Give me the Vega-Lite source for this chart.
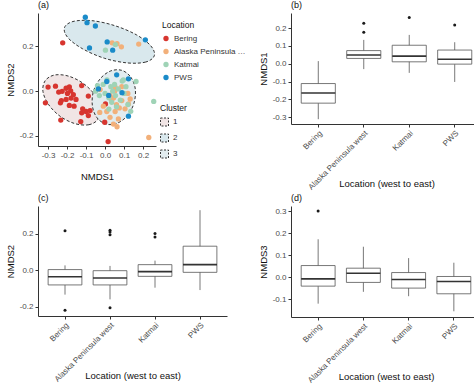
{
  "$schema": "https://vega.github.io/schema/vega-lite/v6.json",
  "padding": {"left": 5, "top": 1, "right": 0, "bottom": 0},
  "datasets": {
    "scatter": [
      {"Location": "Bering", "NMDS1": -0.223, "NMDS2": 0.216},
      {"Location": "Bering", "NMDS1": -0.300, "NMDS2": 0.018},
      {"Location": "Bering", "NMDS1": -0.261, "NMDS2": 0.022},
      {"Location": "Bering", "NMDS1": -0.314, "NMDS2": -0.052},
      {"Location": "Bering", "NMDS1": -0.244, "NMDS2": -0.004},
      {"Location": "Bering", "NMDS1": -0.226, "NMDS2": -0.001},
      {"Location": "Bering", "NMDS1": -0.205, "NMDS2": 0.013},
      {"Location": "Bering", "NMDS1": -0.188, "NMDS2": 0.019},
      {"Location": "Bering", "NMDS1": -0.181, "NMDS2": 0.001},
      {"Location": "Bering", "NMDS1": -0.198, "NMDS2": -0.010},
      {"Location": "Bering", "NMDS1": -0.167, "NMDS2": -0.016},
      {"Location": "Bering", "NMDS1": -0.179, "NMDS2": -0.031},
      {"Location": "Bering", "NMDS1": -0.205, "NMDS2": -0.037},
      {"Location": "Bering", "NMDS1": -0.230, "NMDS2": -0.042},
      {"Location": "Bering", "NMDS1": -0.153, "NMDS2": -0.037},
      {"Location": "Bering", "NMDS1": -0.235, "NMDS2": -0.052},
      {"Location": "Bering", "NMDS1": -0.188, "NMDS2": -0.064},
      {"Location": "Bering", "NMDS1": -0.123, "NMDS2": 0.025},
      {"Location": "Bering", "NMDS1": -0.088, "NMDS2": -0.022},
      {"Location": "Bering", "NMDS1": -0.118, "NMDS2": -0.079},
      {"Location": "Bering", "NMDS1": -0.100, "NMDS2": -0.091},
      {"Location": "Bering", "NMDS1": -0.123, "NMDS2": -0.097},
      {"Location": "Bering", "NMDS1": -0.088, "NMDS2": -0.109},
      {"Location": "Bering", "NMDS1": -0.128, "NMDS2": -0.136},
      {"Location": "Bering", "NMDS1": -0.233, "NMDS2": -0.129},
      {"Location": "Bering", "NMDS1": -0.002, "NMDS2": -0.139},
      {"Location": "Bering", "NMDS1": 0.016, "NMDS2": -0.225},
      {"Location": "Bering", "NMDS1": -0.163, "NMDS2": -0.067},
      {"Location": "Bering", "NMDS1": 0.002, "NMDS2": -0.057},
      {"Location": "Bering", "NMDS1": -0.079, "NMDS2": -0.087},
      {"Location": "Alaska Peninsula west", "NMDS1": 0.037, "NMDS2": 0.216},
      {"Location": "Alaska Peninsula west", "NMDS1": 0.063, "NMDS2": 0.212},
      {"Location": "Alaska Peninsula west", "NMDS1": 0.086, "NMDS2": 0.198},
      {"Location": "Alaska Peninsula west", "NMDS1": 0.177, "NMDS2": 0.210},
      {"Location": "Alaska Peninsula west", "NMDS1": -0.026, "NMDS2": 0.007},
      {"Location": "Alaska Peninsula west", "NMDS1": 0.053, "NMDS2": 0.018},
      {"Location": "Alaska Peninsula west", "NMDS1": 0.088, "NMDS2": 0.020},
      {"Location": "Alaska Peninsula west", "NMDS1": 0.026, "NMDS2": -0.019},
      {"Location": "Alaska Peninsula west", "NMDS1": 0.088, "NMDS2": -0.042},
      {"Location": "Alaska Peninsula west", "NMDS1": -0.009, "NMDS2": -0.067},
      {"Location": "Alaska Peninsula west", "NMDS1": 0.009, "NMDS2": -0.091},
      {"Location": "Alaska Peninsula west", "NMDS1": -0.028, "NMDS2": -0.095},
      {"Location": "Alaska Peninsula west", "NMDS1": 0.053, "NMDS2": -0.091},
      {"Location": "Alaska Peninsula west", "NMDS1": 0.026, "NMDS2": -0.117},
      {"Location": "Alaska Peninsula west", "NMDS1": 0.070, "NMDS2": -0.124},
      {"Location": "Alaska Peninsula west", "NMDS1": 0.105, "NMDS2": -0.079},
      {"Location": "Alaska Peninsula west", "NMDS1": 0.123, "NMDS2": -0.057},
      {"Location": "Alaska Peninsula west", "NMDS1": 0.044, "NMDS2": -0.147},
      {"Location": "Alaska Peninsula west", "NMDS1": 0.063, "NMDS2": -0.159},
      {"Location": "Alaska Peninsula west", "NMDS1": 0.230, "NMDS2": -0.207},
      {"Location": "Alaska Peninsula west", "NMDS1": 0.120, "NMDS2": -0.010},
      {"Location": "Alaska Peninsula west", "NMDS1": 0.060, "NMDS2": -0.060},
      {"Location": "Alaska Peninsula west", "NMDS1": 0.035, "NMDS2": -0.040},
      {"Location": "Alaska Peninsula west", "NMDS1": 0.075, "NMDS2": -0.075},
      {"Location": "Alaska Peninsula west", "NMDS1": 0.132, "NMDS2": -0.035},
      {"Location": "Alaska Peninsula west", "NMDS1": 0.045, "NMDS2": -0.030},
      {"Location": "Alaska Peninsula west", "NMDS1": 0.050, "NMDS2": 0.000},
      {"Location": "Katmai", "NMDS1": 0.002, "NMDS2": 0.183},
      {"Location": "Katmai", "NMDS1": 0.054, "NMDS2": 0.208},
      {"Location": "Katmai", "NMDS1": -0.050, "NMDS2": 0.000},
      {"Location": "Katmai", "NMDS1": -0.030, "NMDS2": -0.020},
      {"Location": "Katmai", "NMDS1": -0.010, "NMDS2": 0.030},
      {"Location": "Katmai", "NMDS1": 0.000, "NMDS2": -0.010},
      {"Location": "Katmai", "NMDS1": 0.010, "NMDS2": 0.050},
      {"Location": "Katmai", "NMDS1": 0.020, "NMDS2": -0.030},
      {"Location": "Katmai", "NMDS1": 0.030, "NMDS2": 0.020},
      {"Location": "Katmai", "NMDS1": 0.035, "NMDS2": -0.050},
      {"Location": "Katmai", "NMDS1": 0.040, "NMDS2": 0.000},
      {"Location": "Katmai", "NMDS1": 0.050, "NMDS2": 0.030},
      {"Location": "Katmai", "NMDS1": 0.055, "NMDS2": -0.020},
      {"Location": "Katmai", "NMDS1": 0.060, "NMDS2": -0.070},
      {"Location": "Katmai", "NMDS1": 0.070, "NMDS2": 0.010},
      {"Location": "Katmai", "NMDS1": 0.080, "NMDS2": -0.040},
      {"Location": "Katmai", "NMDS1": 0.090, "NMDS2": 0.045},
      {"Location": "Katmai", "NMDS1": 0.100, "NMDS2": -0.010},
      {"Location": "Katmai", "NMDS1": 0.120, "NMDS2": -0.060},
      {"Location": "Katmai", "NMDS1": 0.135, "NMDS2": -0.090},
      {"Location": "Katmai", "NMDS1": 0.163, "NMDS2": 0.043},
      {"Location": "Katmai", "NMDS1": 0.256, "NMDS2": -0.046},
      {"Location": "Katmai", "NMDS1": 0.110, "NMDS2": 0.020},
      {"Location": "Katmai", "NMDS1": 0.020, "NMDS2": -0.080},
      {"Location": "Katmai", "NMDS1": -0.040, "NMDS2": 0.025},
      {"Location": "Katmai", "NMDS1": 0.096, "NMDS2": 0.050},
      {"Location": "PWS", "NMDS1": -0.104, "NMDS2": 0.330},
      {"Location": "PWS", "NMDS1": -0.095, "NMDS2": 0.306},
      {"Location": "PWS", "NMDS1": -0.051, "NMDS2": 0.291},
      {"Location": "PWS", "NMDS1": -0.082, "NMDS2": 0.193},
      {"Location": "PWS", "NMDS1": 0.011, "NMDS2": 0.220},
      {"Location": "PWS", "NMDS1": 0.040, "NMDS2": 0.183},
      {"Location": "PWS", "NMDS1": 0.212, "NMDS2": 0.229},
      {"Location": "PWS", "NMDS1": 0.061, "NMDS2": 0.073},
      {"Location": "PWS", "NMDS1": 0.009, "NMDS2": 0.043},
      {"Location": "PWS", "NMDS1": 0.123, "NMDS2": 0.055},
      {"Location": "PWS", "NMDS1": -0.035, "NMDS2": 0.010},
      {"Location": "PWS", "NMDS1": 0.123, "NMDS2": -0.112},
      {"Location": "PWS", "NMDS1": 0.019, "NMDS2": -0.019},
      {"Location": "PWS", "NMDS1": 0.089, "NMDS2": -0.007}
    ],
    "ellipses": [
      {"Cluster": "1", "k": 0, "NMDS1": -0.036, "NMDS2": -0.125},
      {"Cluster": "1", "k": 1, "NMDS1": -0.085, "NMDS2": -0.150},
      {"Cluster": "1", "k": 2, "NMDS1": -0.159, "NMDS2": -0.145},
      {"Cluster": "1", "k": 3, "NMDS1": -0.237, "NMDS2": -0.112},
      {"Cluster": "1", "k": 4, "NMDS1": -0.298, "NMDS2": -0.059},
      {"Cluster": "1", "k": 5, "NMDS1": -0.327, "NMDS2": -0.001},
      {"Cluster": "1", "k": 6, "NMDS1": -0.315, "NMDS2": 0.047},
      {"Cluster": "1", "k": 7, "NMDS1": -0.266, "NMDS2": 0.072},
      {"Cluster": "1", "k": 8, "NMDS1": -0.192, "NMDS2": 0.067},
      {"Cluster": "1", "k": 9, "NMDS1": -0.114, "NMDS2": 0.034},
      {"Cluster": "1", "k": 10, "NMDS1": -0.052, "NMDS2": -0.019},
      {"Cluster": "1", "k": 11, "NMDS1": -0.024, "NMDS2": -0.077},
      {"Cluster": "2", "k": 0, "NMDS1": 0.259, "NMDS2": 0.158},
      {"Cluster": "2", "k": 1, "NMDS1": 0.214, "NMDS2": 0.130},
      {"Cluster": "2", "k": 2, "NMDS1": 0.118, "NMDS2": 0.126},
      {"Cluster": "2", "k": 3, "NMDS1": -0.004, "NMDS2": 0.147},
      {"Cluster": "2", "k": 4, "NMDS1": -0.118, "NMDS2": 0.189},
      {"Cluster": "2", "k": 5, "NMDS1": -0.195, "NMDS2": 0.238},
      {"Cluster": "2", "k": 6, "NMDS1": -0.214, "NMDS2": 0.283},
      {"Cluster": "2", "k": 7, "NMDS1": -0.169, "NMDS2": 0.311},
      {"Cluster": "2", "k": 8, "NMDS1": -0.072, "NMDS2": 0.315},
      {"Cluster": "2", "k": 9, "NMDS1": 0.049, "NMDS2": 0.293},
      {"Cluster": "2", "k": 10, "NMDS1": 0.164, "NMDS2": 0.252},
      {"Cluster": "2", "k": 11, "NMDS1": 0.241, "NMDS2": 0.202},
      {"Cluster": "3", "k": 0, "NMDS1": 0.088, "NMDS2": 0.093},
      {"Cluster": "3", "k": 1, "NMDS1": 0.135, "NMDS2": 0.063},
      {"Cluster": "3", "k": 2, "NMDS1": 0.159, "NMDS2": 0.010},
      {"Cluster": "3", "k": 3, "NMDS1": 0.152, "NMDS2": -0.054},
      {"Cluster": "3", "k": 4, "NMDS1": 0.117, "NMDS2": -0.110},
      {"Cluster": "3", "k": 5, "NMDS1": 0.062, "NMDS2": -0.144},
      {"Cluster": "3", "k": 6, "NMDS1": 0.004, "NMDS2": -0.147},
      {"Cluster": "3", "k": 7, "NMDS1": -0.044, "NMDS2": -0.117},
      {"Cluster": "3", "k": 8, "NMDS1": -0.067, "NMDS2": -0.064},
      {"Cluster": "3", "k": 9, "NMDS1": -0.061, "NMDS2": 0.000},
      {"Cluster": "3", "k": 10, "NMDS1": -0.025, "NMDS2": 0.056},
      {"Cluster": "3", "k": 11, "NMDS1": 0.029, "NMDS2": 0.090}
    ],
    "box": [
      {"axis": "NMDS1", "loc": "Bering", "lower": -0.311, "q1": -0.221, "median": -0.164, "q3": -0.111, "upper": 0.015},
      {"axis": "NMDS1", "loc": "Alaska Peninsula west", "lower": -0.030, "q1": 0.030, "median": 0.049, "q3": 0.074, "upper": 0.134},
      {"axis": "NMDS1", "loc": "Katmai", "lower": -0.051, "q1": 0.011, "median": 0.043, "q3": 0.104, "upper": 0.162},
      {"axis": "NMDS1", "loc": "PWS", "lower": -0.102, "q1": -0.002, "median": 0.025, "q3": 0.077, "upper": 0.121},
      {"axis": "NMDS2", "loc": "Bering", "lower": -0.133, "q1": -0.080, "median": -0.035, "q3": 0.004, "upper": 0.027},
      {"axis": "NMDS2", "loc": "Alaska Peninsula west", "lower": -0.159, "q1": -0.080, "median": -0.042, "q3": -0.002, "upper": 0.024},
      {"axis": "NMDS2", "loc": "Katmai", "lower": -0.095, "q1": -0.033, "median": -0.007, "q3": 0.031, "upper": 0.053},
      {"axis": "NMDS2", "loc": "PWS", "lower": -0.108, "q1": -0.011, "median": 0.031, "q3": 0.132, "upper": 0.329},
      {"axis": "NMDS3", "loc": "Bering", "lower": -0.121, "q1": -0.041, "median": -0.008, "q3": 0.053, "upper": 0.173},
      {"axis": "NMDS3", "loc": "Alaska Peninsula west", "lower": -0.067, "q1": -0.024, "median": 0.018, "q3": 0.041, "upper": 0.139},
      {"axis": "NMDS3", "loc": "Katmai", "lower": -0.087, "q1": -0.050, "median": -0.011, "q3": 0.021, "upper": 0.087},
      {"axis": "NMDS3", "loc": "PWS", "lower": -0.156, "q1": -0.076, "median": -0.020, "q3": 0.003, "upper": 0.066}
    ],
    "outliers": [
      {"axis": "NMDS1", "loc": "Alaska Peninsula west", "value": 0.228},
      {"axis": "NMDS1", "loc": "Alaska Peninsula west", "value": 0.177},
      {"axis": "NMDS1", "loc": "Katmai", "value": 0.260},
      {"axis": "NMDS1", "loc": "PWS", "value": 0.217},
      {"axis": "NMDS2", "loc": "Bering", "value": 0.217},
      {"axis": "NMDS2", "loc": "Bering", "value": -0.219},
      {"axis": "NMDS2", "loc": "Alaska Peninsula west", "value": 0.219},
      {"axis": "NMDS2", "loc": "Alaska Peninsula west", "value": 0.210},
      {"axis": "NMDS2", "loc": "Alaska Peninsula west", "value": 0.195},
      {"axis": "NMDS2", "loc": "Alaska Peninsula west", "value": -0.205},
      {"axis": "NMDS2", "loc": "Katmai", "value": 0.201},
      {"axis": "NMDS2", "loc": "Katmai", "value": 0.183},
      {"axis": "NMDS3", "loc": "Bering", "value": 0.302}
    ]
  },
  "resolve": {"legend": {"color": "independent", "fill": "independent"}, "scale": {"color": "independent", "fill": "independent"}},
  "vconcat": [
    {
      "resolve": {"legend": {"color": "independent", "fill": "independent"}, "scale": {"color": "independent", "fill": "independent"}},
      "hconcat": [
        {
          "width": 118,
          "height": 133,
          "title": {"text": "(a)"},
          "layer": [
            {
              "data": {"name": "scatter"},
              "transform": [{"filter": "datum.Location === 'none'"}],
              "mark": {"type": "circle", "size": 28, "opacity": 1},
              "encoding": {
                "x": {"field": "NMDS1", "type": "quantitative", "scale": {"domain": [-0.353, 0.268], "nice": false, "zero": false}, "axis": {"title": "NMDS1", "values": [-0.3, -0.2, -0.1, 0, 0.1, 0.2], "tickCount": 20, "format": ".1f", "labelExpr": "replace(datum.label, '−', '-')", "labelOverlap": false, "titlePadding": 12}},
                "y": {"field": "NMDS2", "type": "quantitative", "scale": {"domain": [-0.245, 0.349], "nice": false, "zero": false}, "axis": {"title": "NMDS2", "values": [-0.2, 0, 0.2], "tickCount": 20, "format": ".1f", "labelExpr": "replace(datum.label, '−', '-')", "labelOverlap": false}},
                "color": {"field": "Location", "type": "nominal", "scale": {"domain": ["Bering", "Alaska Peninsula west", "Katmai", "PWS"], "range": ["#d7352f", "#f2b07a", "#9fd3b6", "#1a8bc9"]}, "legend": {"title": "Location", "symbolSize": 28, "labelLimit": 74, "orient": "right", "offset": -3, "padding": 8, "rowPadding": 5}}
              }
            },
            {
              "data": {"name": "ellipses"},
              "mark": {"type": "line", "interpolate": "cardinal-closed", "stroke": "#333333", "strokeWidth": 1, "strokeDash": [3, 2]},
              "encoding": {
                "x": {"field": "NMDS1", "type": "quantitative", "scale": {"domain": [-0.353, 0.268], "nice": false, "zero": false}},
                "y": {"field": "NMDS2", "type": "quantitative", "scale": {"domain": [-0.245, 0.349], "nice": false, "zero": false}},
                "fill": {"field": "Cluster", "type": "nominal", "scale": {"domain": ["1", "2", "3"], "range": ["#f1e5e5", "#d9e8ed", "#e2ecef"]}, "legend": {"title": "Cluster", "symbolType": "square", "symbolSize": 64, "symbolStrokeColor": "#333333", "symbolStrokeWidth": 1, "symbolDash": [2, 1.5], "orient": "right", "offset": -3, "padding": 6, "rowPadding": 3}},
                "order": {"field": "k", "type": "quantitative"}
              }
            },
            {
              "data": {"name": "scatter"},
              "mark": {"type": "circle", "size": 28, "opacity": 1},
              "encoding": {
                "x": {"field": "NMDS1", "type": "quantitative", "scale": {"domain": [-0.353, 0.268], "nice": false, "zero": false}},
                "y": {"field": "NMDS2", "type": "quantitative", "scale": {"domain": [-0.245, 0.349], "nice": false, "zero": false}},
                "color": {"field": "Location", "type": "nominal", "scale": {"domain": ["Bering", "Alaska Peninsula west", "Katmai", "PWS"], "range": ["#d7352f", "#f2b07a", "#9fd3b6", "#1a8bc9"]}, "legend": {"title": "Location", "symbolSize": 28, "labelLimit": 74, "orient": "right", "offset": -3, "padding": 8, "rowPadding": 5}}
              }
            }
          ]
        },
        {
          "width": 191,
          "height": 111,
          "title": {"text": "(b)"},
          "layer": [
            {
              "data": {"name": "box"},
              "transform": [{"filter": "datum.axis === 'NMDS1'"}],
              "mark": {"type": "rule", "color": "#555555", "strokeWidth": 0.8},
              "encoding": {
                "x": {"field": "loc", "type": "nominal", "sort": ["Bering", "Alaska Peninsula west", "Katmai", "PWS"], "scale": {"paddingInner": 0, "paddingOuter": 0.1}, "axis": {"title": "Location (west to east)", "labelAngle": -45, "titleY": 54}},
                "y": {"field": "lower", "type": "quantitative", "scale": {"domain": [-0.338, 0.285], "nice": false, "zero": false}, "axis": {"title": "NMDS1", "values": [-0.3, -0.2, -0.1, 0, 0.1, 0.2], "tickCount": 20, "format": ".1f", "labelExpr": "replace(datum.label, '−', '-')", "labelOverlap": false}},
                "y2": {"field": "upper"}
              }
            },
            {
              "data": {"name": "box"},
              "transform": [{"filter": "datum.axis === 'NMDS1'"}],
              "mark": {"type": "bar", "fill": "#ffffff", "stroke": "#555555", "strokeWidth": 0.8, "width": {"band": 0.75}},
              "encoding": {
                "x": {"field": "loc", "type": "nominal", "sort": ["Bering", "Alaska Peninsula west", "Katmai", "PWS"]},
                "y": {"field": "q1", "type": "quantitative", "scale": {"domain": [-0.338, 0.285], "nice": false, "zero": false}},
                "y2": {"field": "q3"}
              }
            },
            {
              "data": {"name": "box"},
              "transform": [{"filter": "datum.axis === 'NMDS1'"}],
              "mark": {"type": "tick", "color": "#333333", "thickness": 1.6, "size": 34, "opacity": 1},
              "encoding": {
                "x": {"field": "loc", "type": "nominal", "sort": ["Bering", "Alaska Peninsula west", "Katmai", "PWS"]},
                "y": {"field": "median", "type": "quantitative", "scale": {"domain": [-0.338, 0.285], "nice": false, "zero": false}}
              }
            },
            {
              "data": {"name": "outliers"},
              "transform": [{"filter": "datum.axis === 'NMDS1'"}],
              "mark": {"type": "circle", "color": "#1a1a1a", "size": 9, "opacity": 1},
              "encoding": {
                "x": {"field": "loc", "type": "nominal", "sort": ["Bering", "Alaska Peninsula west", "Katmai", "PWS"]},
                "y": {"field": "value", "type": "quantitative", "scale": {"domain": [-0.338, 0.285], "nice": false, "zero": false}}
              }
            }
          ]
        }
      ],
      "spacing": 4
    },
    {
      "hconcat": [
        {
          "width": 189,
          "height": 110,
          "title": {"text": "(c)"},
          "layer": [
            {
              "data": {"name": "box"},
              "transform": [{"filter": "datum.axis === 'NMDS2'"}],
              "mark": {"type": "rule", "color": "#555555", "strokeWidth": 0.8},
              "encoding": {
                "x": {"field": "loc", "type": "nominal", "sort": ["Bering", "Alaska Peninsula west", "Katmai", "PWS"], "scale": {"paddingInner": 0, "paddingOuter": 0.1}, "axis": {"title": "Location (west to east)", "labelAngle": -45, "titleY": 54}},
                "y": {"field": "lower", "type": "quantitative", "scale": {"domain": [-0.25, 0.352], "nice": false, "zero": false}, "axis": {"title": "NMDS2", "values": [-0.2, 0, 0.2], "tickCount": 20, "format": ".1f", "labelExpr": "replace(datum.label, '−', '-')", "labelOverlap": false}},
                "y2": {"field": "upper"}
              }
            },
            {
              "data": {"name": "box"},
              "transform": [{"filter": "datum.axis === 'NMDS2'"}],
              "mark": {"type": "bar", "fill": "#ffffff", "stroke": "#555555", "strokeWidth": 0.8, "width": {"band": 0.75}},
              "encoding": {
                "x": {"field": "loc", "type": "nominal", "sort": ["Bering", "Alaska Peninsula west", "Katmai", "PWS"]},
                "y": {"field": "q1", "type": "quantitative", "scale": {"domain": [-0.25, 0.352], "nice": false, "zero": false}},
                "y2": {"field": "q3"}
              }
            },
            {
              "data": {"name": "box"},
              "transform": [{"filter": "datum.axis === 'NMDS2'"}],
              "mark": {"type": "tick", "color": "#333333", "thickness": 1.6, "size": 34, "opacity": 1},
              "encoding": {
                "x": {"field": "loc", "type": "nominal", "sort": ["Bering", "Alaska Peninsula west", "Katmai", "PWS"]},
                "y": {"field": "median", "type": "quantitative", "scale": {"domain": [-0.25, 0.352], "nice": false, "zero": false}}
              }
            },
            {
              "data": {"name": "outliers"},
              "transform": [{"filter": "datum.axis === 'NMDS2'"}],
              "mark": {"type": "circle", "color": "#1a1a1a", "size": 9, "opacity": 1},
              "encoding": {
                "x": {"field": "loc", "type": "nominal", "sort": ["Bering", "Alaska Peninsula west", "Katmai", "PWS"]},
                "y": {"field": "value", "type": "quantitative", "scale": {"domain": [-0.25, 0.352], "nice": false, "zero": false}}
              }
            }
          ]
        },
        {
          "width": 190,
          "height": 111,
          "title": {"text": "(d)"},
          "layer": [
            {
              "data": {"name": "box"},
              "transform": [{"filter": "datum.axis === 'NMDS3'"}],
              "mark": {"type": "rule", "color": "#555555", "strokeWidth": 0.8},
              "encoding": {
                "x": {"field": "loc", "type": "nominal", "sort": ["Bering", "Alaska Peninsula west", "Katmai", "PWS"], "scale": {"paddingInner": 0, "paddingOuter": 0.1}, "axis": {"title": "Location (west to east)", "labelAngle": -45, "titleY": 54}},
                "y": {"field": "lower", "type": "quantitative", "scale": {"domain": [-0.182, 0.325], "nice": false, "zero": false}, "axis": {"title": "NMDS3", "values": [-0.1, 0, 0.1, 0.2, 0.3], "tickCount": 20, "format": ".1f", "labelExpr": "replace(datum.label, '−', '-')", "labelOverlap": false}},
                "y2": {"field": "upper"}
              }
            },
            {
              "data": {"name": "box"},
              "transform": [{"filter": "datum.axis === 'NMDS3'"}],
              "mark": {"type": "bar", "fill": "#ffffff", "stroke": "#555555", "strokeWidth": 0.8, "width": {"band": 0.75}},
              "encoding": {
                "x": {"field": "loc", "type": "nominal", "sort": ["Bering", "Alaska Peninsula west", "Katmai", "PWS"]},
                "y": {"field": "q1", "type": "quantitative", "scale": {"domain": [-0.182, 0.325], "nice": false, "zero": false}},
                "y2": {"field": "q3"}
              }
            },
            {
              "data": {"name": "box"},
              "transform": [{"filter": "datum.axis === 'NMDS3'"}],
              "mark": {"type": "tick", "color": "#333333", "thickness": 1.6, "size": 34, "opacity": 1},
              "encoding": {
                "x": {"field": "loc", "type": "nominal", "sort": ["Bering", "Alaska Peninsula west", "Katmai", "PWS"]},
                "y": {"field": "median", "type": "quantitative", "scale": {"domain": [-0.182, 0.325], "nice": false, "zero": false}}
              }
            },
            {
              "data": {"name": "outliers"},
              "transform": [{"filter": "datum.axis === 'NMDS3'"}],
              "mark": {"type": "circle", "color": "#1a1a1a", "size": 9, "opacity": 1},
              "encoding": {
                "x": {"field": "loc", "type": "nominal", "sort": ["Bering", "Alaska Peninsula west", "Katmai", "PWS"]},
                "y": {"field": "value", "type": "quantitative", "scale": {"domain": [-0.182, 0.325], "nice": false, "zero": false}}
              }
            }
          ]
        }
      ],
      "spacing": 31
    }
  ],
  "spacing": 2,
  "config": {
    "font": "Liberation Sans",
    "view": {"stroke": null},
    "axis": {"grid": false, "domainColor": "#333333", "tickColor": "#333333", "tickSize": 3, "labelFontSize": 8, "labelColor": "#4d4d4d", "titleFontSize": 9.5, "titleFontWeight": "normal", "titleColor": "#111111", "labelPadding": 2, "titlePadding": 4, "labelOverlap": false, "labelFlush": false},
    "legend": {"labelFontSize": 8, "titleFontSize": 8.5, "titleFontWeight": "normal", "labelColor": "#333333", "titleColor": "#111111"},
    "title": {"fontSize": 9, "fontWeight": "normal", "anchor": "start", "frame": "group", "offset": 3, "color": "#111111"}
  }
}
